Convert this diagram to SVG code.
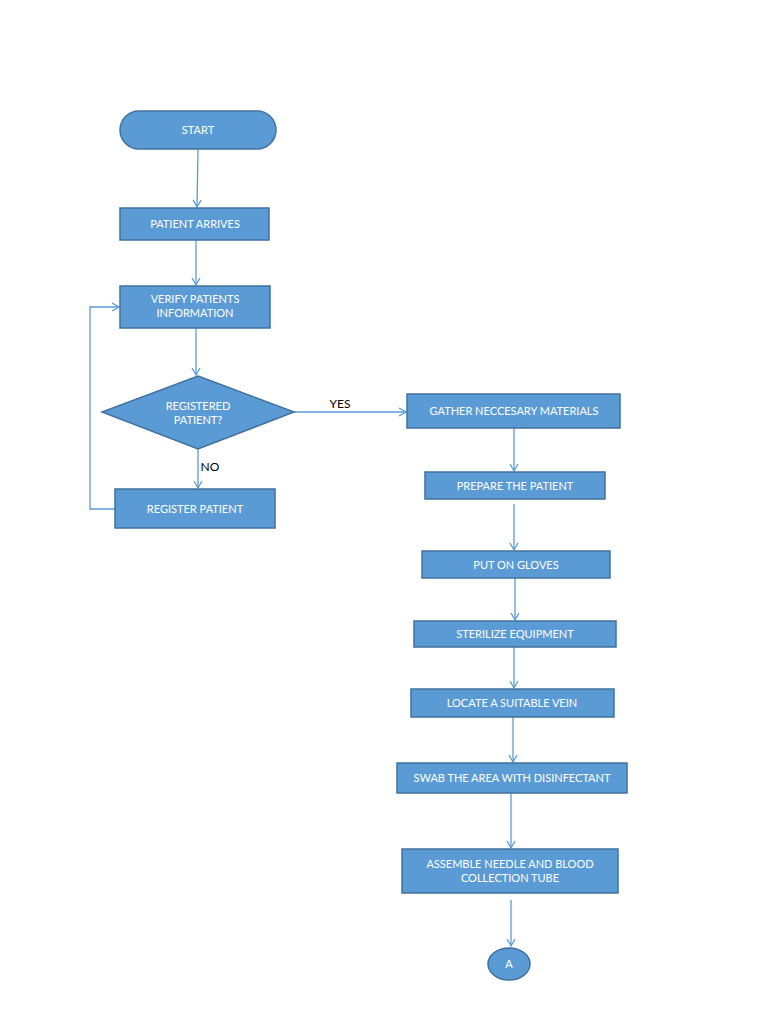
<svg xmlns="http://www.w3.org/2000/svg" width="768" height="1024" viewBox="0 0 768 1024">
<style>
.n{fill:#5B9BD5;stroke:#41719C;stroke-width:1.5}
.t{font-family:Lato,"Liberation Sans",sans-serif;font-size:11px;fill:#fff;text-anchor:middle}
.l{font-family:Lato,"Liberation Sans",sans-serif;font-size:12px;fill:#000}
.c{fill:none;stroke:#5B9BD5;stroke-width:1.3}
</style>
<defs><marker id="a" markerWidth="10" markerHeight="10" refX="8" refY="5" orient="auto" markerUnits="userSpaceOnUse"><path d="M1,1 L8,5 L1,9" fill="none" stroke="#5B9BD5" stroke-width="1.3"/></marker></defs>
<rect width="768" height="1024" fill="#fff"/>
<g id="connectors">
<path class="c" d="M198,149 L197,207" marker-end="url(#a)"/>
<path class="c" d="M196,240 L196,285" marker-end="url(#a)"/>
<path class="c" d="M196,328 L196,375" marker-end="url(#a)"/>
<path class="c" d="M198,449 L198,488" marker-end="url(#a)"/>
<path class="c" d="M115,509 L90,509 L90,307 L119,307" marker-end="url(#a)"/>
<path class="c" d="M294,412 L406,412" marker-end="url(#a)"/>
<path class="c" d="M514,428 L514,471" marker-end="url(#a)"/>
<path class="c" d="M514,504 L514,550" marker-end="url(#a)"/>
<path class="c" d="M515,578 L515,620" marker-end="url(#a)"/>
<path class="c" d="M514,647 L514,688" marker-end="url(#a)"/>
<path class="c" d="M513,717 L513,762" marker-end="url(#a)"/>
<path class="c" d="M511,793 L511,848" marker-end="url(#a)"/>
<path class="c" d="M511,900 L511,946" marker-end="url(#a)"/>
<text class="l" x="340" y="408" text-anchor="middle">YES</text>
<text class="l" x="210" y="471" text-anchor="middle">NO</text>
</g>
<g id="start"><rect class="n" x="120" y="111" width="156" height="38" rx="19"/><text class="t" x="198" y="134">START</text></g>
<g id="arrives"><rect class="n" x="120" y="208" width="149" height="32"/><text class="t" x="195" y="228">PATIENT ARRIVES</text></g>
<g id="verify"><rect class="n" x="120" y="286" width="150" height="42"/><text class="t" x="195" y="303">VERIFY PATIENTS</text><text class="t" x="195" y="317">INFORMATION</text></g>
<g id="registered"><polygon class="n" points="198,376 294,412 198,449 102,412"/><text class="t" x="198" y="410">REGISTERED</text><text class="t" x="198" y="424">PATIENT?</text></g>
<g id="register"><rect class="n" x="115" y="489" width="160" height="39"/><text class="t" x="195" y="513">REGISTER PATIENT</text></g>
<g id="gather"><rect class="n" x="407" y="394" width="213" height="34"/><text class="t" x="514" y="415">GATHER NECCESARY MATERIALS</text></g>
<g id="prepare"><rect class="n" x="425" y="472" width="180" height="27"/><text class="t" x="515" y="490">PREPARE THE PATIENT</text></g>
<g id="gloves"><rect class="n" x="422" y="551" width="188" height="27"/><text class="t" x="516" y="569">PUT ON GLOVES</text></g>
<g id="sterilize"><rect class="n" x="414" y="621" width="202" height="26"/><text class="t" x="515" y="638">STERILIZE EQUIPMENT</text></g>
<g id="locate"><rect class="n" x="411" y="689" width="203" height="28"/><text class="t" x="512" y="707">LOCATE A SUITABLE VEIN</text></g>
<g id="swab"><rect class="n" x="397" y="763" width="230" height="30"/><text class="t" x="512" y="782">SWAB THE AREA WITH DISINFECTANT</text></g>
<g id="assemble"><rect class="n" x="402" y="849" width="216" height="44"/><text class="t" x="510" y="868">ASSEMBLE NEEDLE AND BLOOD</text><text class="t" x="510" y="882">COLLECTION TUBE</text></g>
<g id="connA"><ellipse class="n" cx="509" cy="964" rx="21" ry="16"/><text class="t" x="509" y="968">A</text></g>
</svg>
